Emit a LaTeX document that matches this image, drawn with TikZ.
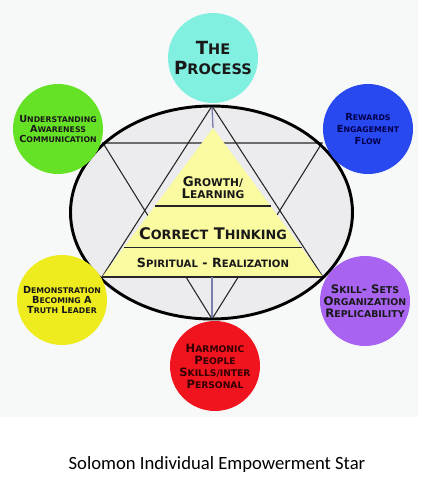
\documentclass[tikz,border=0pt]{standalone}
\usepackage{fontspec}
\usepackage{graphicx}
\setmainfont{Carlito}
\newfontfamily\plate{DejaVu Sans}
\usetikzlibrary{calc, positioning}

\definecolor{backdrop}{RGB}{247,249,249}
\definecolor{discgray}{RGB}{236,236,238}
\definecolor{pyramid}{RGB}{250,250,160}
\definecolor{axisblue}{RGB}{125,125,175}
\definecolor{processteal}{RGB}{130,240,225}
\definecolor{understgreen}{RGB}{102,226,38}
\definecolor{rewardblue}{RGB}{40,72,240}
\definecolor{demoyellow}{RGB}{238,236,30}
\definecolor{skillpurple}{RGB}{168,100,240}
\definecolor{harmred}{RGB}{240,20,30}

% small caps made by hand: first letter, then the rest smaller
\newcommand{\sk}[2]{#1\scalebox{.8}{#2}}

\tikzset{
  bubble/.style = {circle, minimum size=67.5pt, inner sep=0pt, align=center,
    font=\plate\bfseries\fontsize{7.3}{8.8}\selectfont, text=black!90},
  tier/.style = {inner sep=0pt, align=center, text=black!90},
  starline/.style = {draw=black!85, line width=.8pt},
  axisline/.style = {draw=axisblue, line width=1pt}
}

\begin{document}
\begin{tikzpicture}[x=7.5pt, y=7.5pt]
      \useasboundingbox (0, 0) rectangle (42.4, 48);
      \fill[backdrop] (0, 6.3) rectangle (41.8, 48);
      \fill[discgray] (21.15, 26.75) ellipse [x radius=14.1, y radius=10.65];
      % the star
      \coordinate (top) at (21.2, 37.4);
      \coordinate (bot) at (21.2, 16.1);
      \coordinate (ul) at (10.3, 33.7);
      \coordinate (ur) at (32.2, 33.7);
      \coordinate (ll) at (10.2, 20.3);
      \coordinate (lr) at (32.3, 20.3);
      \coordinate (apex) at (21.3, 35.2);
      \coordinate (basemid) at (21.2, 20.3);
      \draw[starline] (top) -- (ll) -- (lr) -- cycle;
      \draw[starline] (bot) -- (ul) -- (ur) -- cycle;
      % pyramid
      \fill[pyramid] (apex) -- (ll) -- (lr) -- cycle;
      \draw[starline] ($(apex)!.5235!(ll)$) -- ($(apex)!.5235!(lr)$);
      \draw[starline] ($(apex)!.805!(ll)$) -- ($(apex)!.805!(lr)$);
      \draw[starline] (ll) -- (lr);
      \draw[axisline] (top) -- (apex);
      \draw[axisline] (basemid) -- (bot);
      \draw[line width=2.2pt] (21.15, 26.75) ellipse [x radius=14.1, y radius=10.65];
      \node[tier, font=\plate\bfseries\fontsize{10}{9}\selectfont] (growth) at (21.3, 29.2) {\sk{G}{ROWTH/}\\\sk{L}{EARNING}};
      \node[tier, font=\plate\bfseries\fontsize{12}{14}\selectfont] (thinking) at (21.3, 24.6) {\sk{C}{ORRECT} \sk{T}{HINKING}};
      \node[tier, font=\plate\bfseries\fontsize{9.5}{11}\selectfont] (spirit) at (21.3, 21.7) {\sk{S}{PIRITUAL} - \sk{R}{EALIZATION}};
      % circles
      \node[bubble, fill=processteal, font=\plate\bfseries\fontsize{13.6}{14.3}\selectfont] (process) at (21.3, 42.2) {\sk{T}{HE}\\\sk{P}{ROCESS}};
      \node[bubble, fill=understgreen, font=\plate\bfseries\fontsize{7.3}{7.5}\selectfont] (underst) at (5.8, 35.1) {\sk{U}{NDERSTANDING}\\\sk{A}{WARENESS}\\\sk{C}{OMMUNICATION}};
      \node[bubble, fill=rewardblue, text=black!70!blue] (rewards) at (36.8, 35.1) {\sk{R}{EWARDS}\\\sk{E}{NGAGEMENT}\\\sk{F}{LOW}};
      \node[bubble, fill=demoyellow, font=\plate\bfseries\fontsize{7.3}{7.7}\selectfont] (demo) at (6.2, 18.0) {\sk{D}{EMONSTRATION}\\\sk{B}{ECOMING} A\\\sk{T}{RUTH} \sk{L}{EADER}};
      \node[bubble, fill=skillpurple, font=\plate\bfseries\fontsize{8.8}{9}\selectfont] (skills) at (36.5, 17.9) {\sk{S}{KILL}- \sk{S}{ETS}\\\sk{O}{RGANIZATION}\\\sk{R}{EPLICABILITY}};
      \node[bubble, fill=harmred, text=black!80!red, font=\plate\bfseries\fontsize{8.6}{9}\selectfont] (harmonic) at (21.5, 11.4) {\sk{H}{ARMONIC}\\\sk{P}{EOPLE}\\\sk{S}{KILLS/INTER}\\\sk{P}{ERSONAL}};
      \node[font=\fontsize{14}{16}\selectfont] (caption) at (21.7, 1.5) {Solomon Individual Empowerment Star};
\end{tikzpicture}
\end{document}
